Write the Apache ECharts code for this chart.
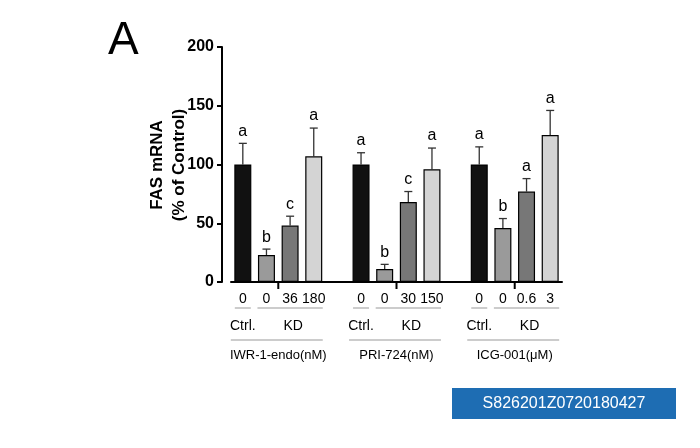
<!DOCTYPE html><html><head><meta charset="utf-8"><script src="https://cdn.jsdelivr.net/npm/echarts@6/dist/echarts.min.js"></script></head><body style="margin:0;background:#fff"><div id="c" style="width:700px;height:448px"></div><script>
var categories=['0','0','36','180','','0','0','30','150','','0','0','0.6','3'];
var values=[100,23,48,107,null,100,11,68,96,null,100,46,77,125];
var errTop=[118,28,56,131,null,110,15,77,114,null,115,54,88,146];
var letters=['a','b','c','a','','a','b','c','a','','a','b','a','a'];
var yTicks=[0,50,100,150,200];
var groupNames=['IWR-1-endo(nM)','PRI-724(nM)','ICG-001(μM)'];
var colors=['#111','#9a9a9a','#777','#d4d4d4'];
var chart=echarts.init(document.getElementById('c'));
var F='Arial, Liberation Sans, sans-serif';
chart.setOption({animation:false,
grid:{left:231,right:138,top:47,bottom:166},
xAxis:{type:'category',data:categories,axisLine:{lineStyle:{color:'#000',width:2}},axisTick:{show:false},axisLabel:{color:'#000',fontSize:14,fontFamily:F,margin:10,interval:0}},
yAxis:{type:'value',min:0,max:200,interval:50,offset:9,axisLine:{show:true,lineStyle:{color:'#000',width:2}},axisTick:{show:true,length:5,lineStyle:{width:2}},splitLine:{show:false},axisLabel:{color:'#000',fontSize:16,fontWeight:'bold',fontFamily:F,margin:8}},
series:[{type:'bar',barWidth:17,data:values.map(function(v,i){return {value:v,itemStyle:{color:colors[i%5],borderColor:'#000',borderWidth:1.2}};})},
{type:'custom',z:1,renderItem:function(p,api){var i=api.value(0);var t=api.coord([i,api.value(1)]);var b=api.coord([i,api.value(2)]);
return {type:'group',children:[{type:'line',shape:{x1:t[0],y1:t[1],x2:t[0],y2:b[1]},style:{stroke:'#333',lineWidth:1.3}},{type:'line',shape:{x1:t[0]-4,y1:t[1],x2:t[0]+4,y2:t[1]},style:{stroke:'#333',lineWidth:1.3}},
{type:'text',style:{text:letters[i],x:t[0],y:t[1]-4,align:'center',verticalAlign:'bottom',fill:'#000',font:'16px '+F}}]};},
data:errTop.map(function(v,i){return v==null?[i,0,0]:[i,v,values[i]];}).filter(function(d,i){return values[i]!=null;})}]
});
function px(i){return chart.convertToPixel({xAxisIndex:0},i);}
var g=[{type:'text',left:108,top:18,style:{text:'A',font:'46px '+F,fill:'#000'}},
{type:'text',x:168,y:165,rotation:Math.PI/2,style:{text:'FAS mRNA\n(% of Control)',font:'bold 17px '+F,fill:'#000',align:'center',verticalAlign:'middle',lineHeight:22}},
{type:'rect',shape:{x:452,y:388,width:224,height:31},style:{fill:'#1e6db3'}},
{type:'text',x:564,y:404,style:{text:'S826201Z0720180427',font:'16px '+F,fill:'#fff',align:'center',verticalAlign:'middle'}}];
var ln={stroke:'#999',lineWidth:1};
for(var k=0;k<3;k++){var s=k*5;var c0=px(s),c1=px(s+1),c3=px(s+3);
g.push({type:'line',shape:{x1:c0-8,y1:308,x2:c0+8,y2:308},style:ln});
g.push({type:'line',shape:{x1:c1-9,y1:308,x2:c3+9,y2:308},style:ln});
g.push({type:'text',x:c0,y:326,style:{text:'Ctrl.',font:'14px '+F,fill:'#000',align:'center',verticalAlign:'middle'}});
g.push({type:'text',x:(c1+c3)/2+3,y:326,style:{text:'KD',font:'14px '+F,fill:'#000',align:'center',verticalAlign:'middle'}});
g.push({type:'line',shape:{x1:c0-12,y1:340,x2:c3+9,y2:340},style:ln});
g.push({type:'text',x:(c0+c3)/2,y:355,style:{text:groupNames[k],font:'13px '+F,fill:'#000',align:'center',verticalAlign:'middle'}});
g.push({type:'line',shape:{x1:(px(s+1)+px(s+2))/2,y1:283,x2:(px(s+1)+px(s+2))/2,y2:289},style:{stroke:'#000',lineWidth:2}});}
chart.setOption({graphic:g});
</script></body></html>
